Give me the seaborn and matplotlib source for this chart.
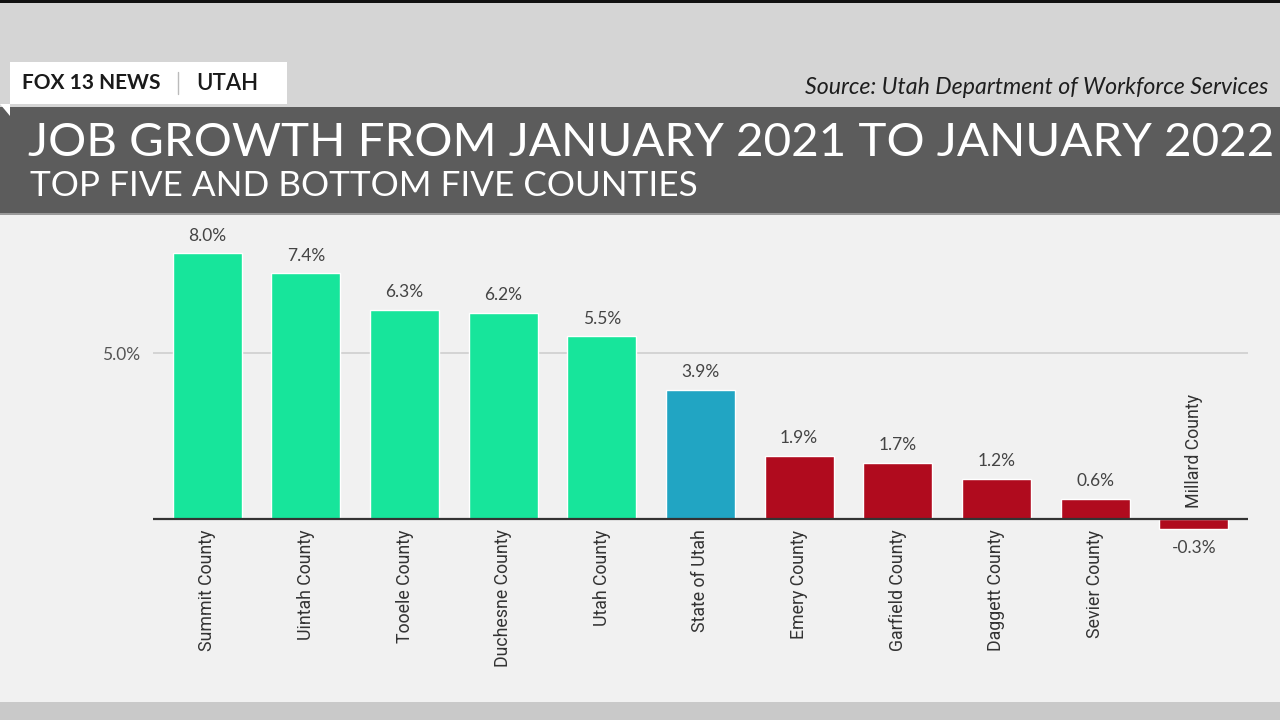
import matplotlib
matplotlib.use("Agg")
import matplotlib.pyplot as plt
import matplotlib.patches as mpatches
import seaborn as sns
import pandas as pd

counties = ["Summit County", "Uintah County", "Tooele County", "Duchesne County",
            "Utah County", "State of Utah", "Emery County", "Garfield County",
            "Daggett County", "Sevier County", "Millard County"]
growth = [8.0, 7.4, 6.3, 6.2, 5.5, 3.9, 1.9, 1.7, 1.2, 0.6, -0.3]
groups = ["top", "top", "top", "top", "top", "state", "bottom", "bottom", "bottom", "bottom", "bottom"]
group_colors = {"top": "#17e59b", "state": "#21a5c3", "bottom": "#b00b1e"}
y_ticks = [5.0]

title = "JOB GROWTH FROM JANUARY 2021 TO JANUARY 2022"
subtitle = "TOP FIVE AND BOTTOM FIVE COUNTIES"
source = "Source: Utah Department of Workforce Services"

df = pd.DataFrame({"county": counties, "growth": growth, "group": groups})

sns.set_style("white")
plt.rcParams["font.family"] = ["Lato", "DejaVu Sans"]

fig = plt.figure(figsize=(12.8, 7.2), dpi=100)
fig.patch.set_facecolor("#f1f1f1")

# background decorations
bg = fig.add_axes([0, 0, 1, 1], zorder=0)
bg.set_xlim(0, 1280)
bg.set_ylim(720, 0)
bg.axis("off")
bg.add_patch(mpatches.Rectangle((0, 0), 1280, 107, color="#d5d5d5", lw=0))
bg.add_patch(mpatches.Rectangle((0, 0), 1280, 3, color="#111111", lw=0))
bg.add_patch(mpatches.Rectangle((0, 702), 1280, 18, color="#c9c9c9", lw=0))
bg.add_patch(mpatches.Rectangle((0, 107), 1280, 106, color="#5c5c5c", lw=0))
bg.add_patch(mpatches.Rectangle((0, 213), 1280, 2, color="#9a9a9a", lw=0))
bg.add_patch(mpatches.Rectangle((10, 62), 277, 42, color="white", lw=0))
bg.add_patch(mpatches.Polygon([(0, 104), (10, 104), (10, 116)], closed=True, color="white", lw=0))
bg.text(22, 83, "FOX 13 NEWS", fontsize=15, fontweight="bold", color="#1a1a1a",
        va="center", ha="left")
bg.plot([178, 178], [72, 94], color="#bbbbbb", lw=1)
bg.text(196, 83, "UTAH", fontsize=16, fontweight="semibold", color="#1a1a1a",
        va="center", ha="left")
bg.text(1268, 87, source, fontsize=16.7, style="italic", color="#1e1e1e",
        va="center", ha="right")
bg.text(28, 143, title, fontsize=34.2, color="white", va="center", ha="left")
bg.text(30, 186, subtitle, fontsize=25.3, color="white", va="center", ha="left")

# chart axes
ax = fig.add_axes([153 / 1280, 1 - 540 / 720, (1248 - 153) / 1280, (540 - 230) / 720], zorder=1)
ax.patch.set_alpha(0)
sns.barplot(data=df, x="county", y="growth", hue="group", palette=group_colors,
            dodge=False, width=0.7, legend=False, ax=ax, saturation=1)
px_per_unit = 166 / 5.0
ax.set_ylim(-21 / px_per_unit, 289 / px_per_unit)
ax.set_xlim(-0.55, 10.55)
for s in ax.spines.values():
    s.set_visible(False)
ax.axhline(0, color="#333333", lw=1.6, zorder=3)
for t in y_ticks:
    ax.axhline(t, color="#cfcfcf", lw=1.2, zorder=0)
ax.set_yticks(y_ticks)
ax.set_yticklabels([f"{t:.1f}%" for t in y_ticks], fontsize=12.5, color="#555555")
ax.tick_params(axis="y", length=0, pad=9)
ax.set_xlabel("")
ax.set_ylabel("")

ax.set_xticks(range(len(counties)))
labels = [c if v >= 0 else "" for c, v in zip(counties, growth)]
ax.set_xticklabels(labels, rotation=90, fontsize=12.8, color="#333333",
                   family=["Roboto", "DejaVu Sans"], va="top", ha="center")
ax.tick_params(axis="x", length=0, pad=-7.5)

for i, v in enumerate(growth):
    if v >= 0:
        ax.annotate(f"{v:.1f}%", (i, v), xytext=(0, 7), textcoords="offset points",
                    ha="center", va="bottom", fontsize=12.5, color="#444444")
    else:
        ax.annotate(f"{v:.1f}%", (i, v), xytext=(0, -8), textcoords="offset points",
                    ha="center", va="top", fontsize=12.5, color="#444444")
        ax.annotate(counties[i], (i, 0), xytext=(0, 8), textcoords="offset points",
                    ha="center", va="bottom", rotation=90, fontsize=12.8, color="#333333",
                    family=["Roboto", "DejaVu Sans"])

fig.savefig("out.png", dpi=100, facecolor=fig.get_facecolor())
